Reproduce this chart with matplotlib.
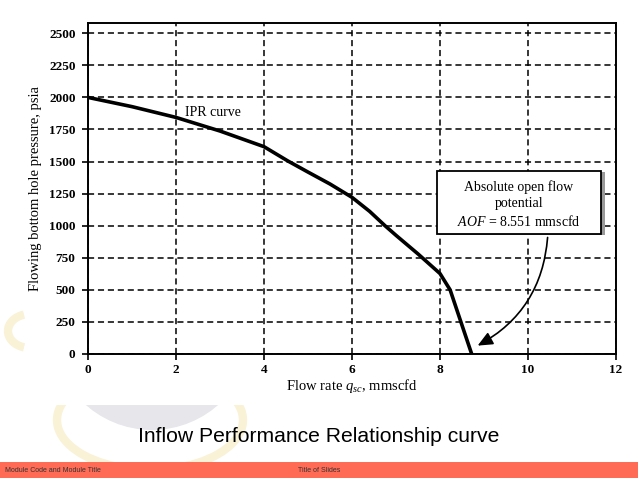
import matplotlib
matplotlib.use("Agg")
import matplotlib.pyplot as plt
from matplotlib.patches import Rectangle, Circle, Arc

# ---- data ----
flow_rate = [0.0, 1.0, 2.0, 3.0, 4.0, 4.54, 5.0, 5.5, 6.0, 6.4, 6.75, 7.0, 7.5, 8.0, 8.23, 8.47, 8.72]
pressure = [2000, 1928, 1844, 1738, 1616, 1505, 1418, 1325, 1221, 1112, 1000, 925, 780, 627, 500, 255, 0]
x_ticks = [0, 2, 4, 6, 8, 10, 12]
y_ticks = [0, 250, 500, 750, 1000, 1250, 1500, 1750, 2000, 2250, 2500]
aof_text = "Absolute open flow\npotential\n$AOF$ = 8.551 mmscfd"

plt.rcParams["mathtext.fontset"] = "custom"
plt.rcParams["mathtext.rm"] = "Liberation Serif"
plt.rcParams["mathtext.it"] = "Liberation Serif:italic"

W, H = 638, 478
fig = plt.figure(figsize=(W / 100, H / 100), dpi=100)
fig.patch.set_facecolor("white")

# faint watermark logo (pixel coords, y up)
wm = fig.add_axes([0, 0, 1, 1], zorder=0)
wm.set_xlim(0, W); wm.set_ylim(0, H); wm.axis("off")
yel = "#f9f2d6"
wm.add_patch(Circle((152, H - 330), 100, facecolor="#e6e6eb", edgecolor="none", zorder=1))
wm.add_patch(Arc((150, H - 420), 186, 100, theta1=140, theta2=250, color=yel, lw=6, zorder=2))
wm.add_patch(Arc((150, H - 420), 186, 100, theta1=-65, theta2=40, color=yel, lw=6, zorder=2))
wm.add_patch(Rectangle((0, H - 405), 320, 200, facecolor="white", edgecolor="none", zorder=3))
wm.add_patch(Arc((30, H - 331), 44, 34, theta1=110, theta2=250, color=yel, lw=6, zorder=4))

ax = fig.add_axes([88 / W, 1 - 354 / H, (616 - 88) / W, (354 - 23) / H], zorder=2)
ax.set_facecolor("none")
ax.plot(flow_rate, pressure, color="black", lw=2.6, solid_joinstyle="round",
        solid_capstyle="round", zorder=3)
ax.set_xlim(0, 12)
ax.set_ylim(0, 2580)
ax.set_xticks(x_ticks)
ax.set_yticks(y_ticks)
ax.grid(True, color="black", ls=(0, (4, 2.5)), lw=1.1)
for s in ax.spines.values():
    s.set_linewidth(1.4)
serif = "Liberation Serif"
ax.tick_params(direction="out", length=4, width=1.2, labelsize=9.5)
ax.tick_params(axis="x", pad=3)
ax.tick_params(axis="y", pad=5)
for lab in ax.get_xticklabels() + ax.get_yticklabels():
    lab.set_family(serif)
    lab.set_fontweight("bold")
ax.set_xlabel("Flow rate $q_{sc}$, mmscfd", family=serif, fontsize=10.5, labelpad=1)
ax.set_ylabel("Flowing bottom hole pressure, psia", family=serif, fontsize=10.5, labelpad=5)

ax.text(2.2, 1885, "IPR curve", family=serif, fontsize=10, ha="left", va="center")

# annotation box with shadow
ax.add_patch(Rectangle((8.0, 930), 3.75, 492, facecolor="#9a9a9a", edgecolor="none", zorder=4))
ax.add_patch(Rectangle((7.93, 935), 3.72, 490, facecolor="white", edgecolor="black", lw=1.3, zorder=5))
ax.text(9.79, 1165, aof_text, family=serif, fontsize=10, ha="center", va="center",
        linespacing=1.3, zorder=6)
ax.annotate("", xy=(8.8, 55), xytext=(10.45, 930),
            arrowprops=dict(arrowstyle="-|>,head_length=0.9,head_width=0.4", color="black", lw=1.2,
                            connectionstyle="arc3,rad=-0.28"), zorder=6)

# slide title
fig.text(319 / W, 1 - 437 / H, "Inflow Performance Relationship curve", family="Liberation Sans",
         fontsize=15.2, ha="center", va="center", color="black")

# footer bar
foot = fig.add_axes([0, 0, 1, 16 / H], zorder=3)
foot.set_xlim(0, W); foot.set_ylim(0, 16); foot.axis("off")
foot.add_patch(Rectangle((0, 0), W, 16, facecolor="#ff6b55", edgecolor="none"))
foot.text(5, 8, "Module Code and Module Title", fontsize=5, family="Liberation Sans", va="center", color="#333333")
foot.text(298, 8, "Title of Slides", fontsize=5, family="Liberation Sans", va="center", color="#333333")

fig.savefig("out.png", dpi=100)
